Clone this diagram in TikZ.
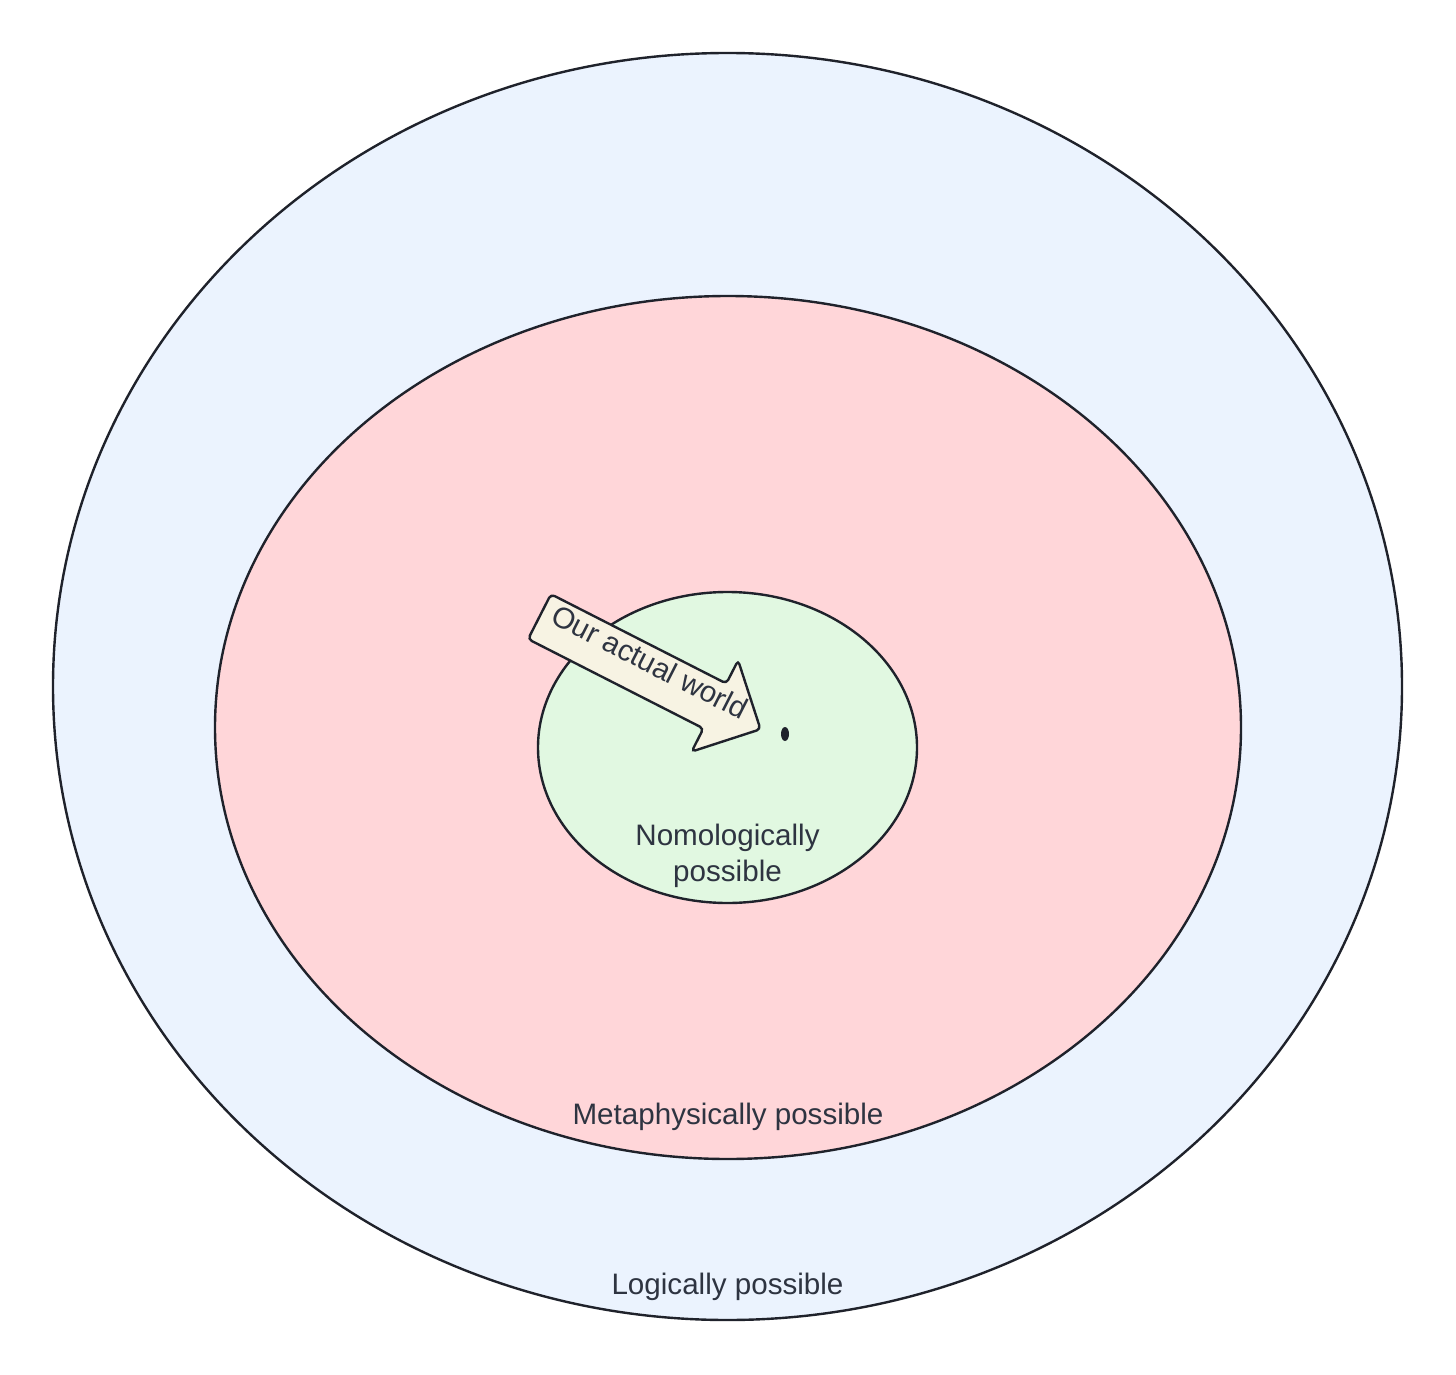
\documentclass[tikz,border=0pt]{standalone}
\usepackage{fontspec}
\setmainfont{Liberation Sans}
\usetikzlibrary{shapes.geometric,shapes.arrows}

\definecolor{linegray}{HTML}{1F222B}
\definecolor{textgray}{HTML}{2E3441}
\definecolor{logicblue}{HTML}{EBF3FE}
\definecolor{metapink}{HTML}{FFD6D9}
\definecolor{nomogreen}{HTML}{E1F8E1}
\definecolor{pointercream}{HTML}{F7F3E3}

\begin{document}
\begin{tikzpicture}[x=0.5pt, y=-0.5pt,
    region/.style={ellipse, draw=linegray, line width=1.2pt, inner sep=0pt},
    caption/.style={text=textgray, font=\fontsize{14.8pt}{18pt}\selectfont, align=center}]

    \useasboundingbox (0,0) rectangle (1456,1375);

    \node[region, fill=logicblue, minimum width=674.5pt, minimum height=633.5pt] (logical) at (727.5,686.5) {};
    \node[region, fill=metapink, minimum width=513pt, minimum height=431.5pt] (meta) at (728,727.5) {};
    \node[region, fill=nomogreen, minimum width=189.5pt, minimum height=155.5pt] (nomo) at (727.5,747.5) {};

    \node[caption] at ([yshift = 17pt]logical.south) {Logically possible};
    \node[caption] at ([yshift = 21.5pt]meta.south) {Metaphysically possible};
    \node[caption] at ([yshift = 24pt]nomo.south) {Nomologically\\possible};

    \node[ellipse, fill=linegray, minimum width=4pt, minimum height=7pt, inner sep=0pt] (actual) at (785,734) {};

    \node[single arrow, draw=linegray, fill=pointercream, line width=1.2pt, rounded corners=2pt,
        inner xsep=0pt, inner ysep=12pt, minimum height=124pt, single arrow head extend=13pt,
        rotate=-27, anchor=tip] (pointer) at (762,730) {};
    \node[caption, rotate=-27] at (650,662) {Our actual world};

\end{tikzpicture}
\end{document}
